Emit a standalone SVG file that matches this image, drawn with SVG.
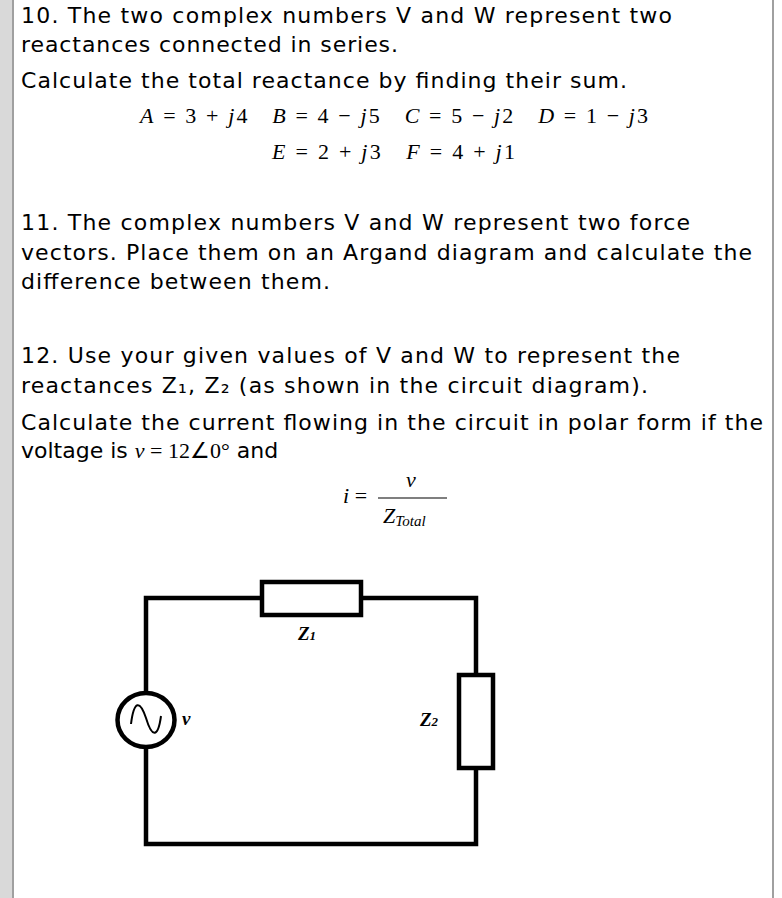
<svg xmlns="http://www.w3.org/2000/svg" width="782" height="898" viewBox="0 0 782 898">
<style>
.t{font-family:"DejaVu Sans",Verdana,sans-serif;font-size:22px;fill:#000}
.m{font-family:"Liberation Serif","Times New Roman",serif;font-size:22px;fill:#000}
.i{font-style:italic}
.w{fill:none;stroke:#000;stroke-width:4.5}
.lb{font-family:"Liberation Serif",serif;font-weight:bold;font-style:italic;font-size:19px}
</style>
<rect x="0" y="0" width="782" height="898" fill="#fff"/>
<rect x="0" y="0" width="12" height="898" fill="#d9d9d9"/>
<line x1="13" y1="0" x2="13" y2="898" stroke="#808080" stroke-width="1.5"/>
<line x1="773" y1="0" x2="773" y2="898" stroke="#808080" stroke-width="1.5"/>
<g id="q10">
<text class="t" x="21" y="23" textLength="651">10. The two complex numbers V and W represent two</text>
<text class="t" x="21" y="52" textLength="377">reactances connected in series.</text>
<text class="t" x="21" y="88" textLength="606">Calculate the total reactance by finding their sum.</text>
<text class="m" x="140" y="123" textLength="508" xml:space="preserve"><tspan class="i">A</tspan> = 3 + <tspan class="i">j</tspan>4   <tspan class="i">B</tspan> = 4 − <tspan class="i">j</tspan>5   <tspan class="i">C</tspan> = 5 − <tspan class="i">j</tspan>2   <tspan class="i">D</tspan> = 1 − <tspan class="i">j</tspan>3</text>
<text class="m" x="272" y="159" textLength="243" xml:space="preserve"><tspan class="i">E</tspan> = 2 + <tspan class="i">j</tspan>3   <tspan class="i">F</tspan> = 4 + <tspan class="i">j</tspan>1</text>
</g>
<g id="q11">
<text class="t" x="21" y="230" textLength="669">11. The complex numbers V and W represent two force</text>
<text class="t" x="21" y="260" textLength="731">vectors. Place them on an Argand diagram and calculate the</text>
<text class="t" x="21" y="289" textLength="309">difference between them.</text>
</g>
<g id="q12">
<text class="t" x="21" y="363" textLength="659">12. Use your given values of V and W to represent the</text>
<text class="t" x="21" y="393" textLength="627">reactances Z₁, Z₂ (as shown in the circuit diagram).</text>
<text class="t" x="21" y="430" textLength="742">Calculate the current flowing in the circuit in polar form if the</text>
<text class="t" x="21" y="458">voltage is <tspan class="m i">v</tspan><tspan class="m"> = 12∠0°</tspan> and</text>
<text class="m" x="343" y="503"><tspan class="i">i</tspan> =</text>
<text class="m i" x="406" y="487">v</text>
<line x1="378" y1="498" x2="447" y2="498" stroke="#000" stroke-width="1.2"/>
<text class="m i" x="383" y="523">Z<tspan font-size="15" dy="3">Total</tspan></text>
</g>
<g id="connectors">
<polyline class="w" points="262,598 146,598 146,693"/>
<polyline class="w" points="146,747 146,844 476,844 476,768"/>
<polyline class="w" points="361,598 476,598 476,674"/>
</g>
<g id="Z1"><rect class="w" x="262" y="582" width="99" height="33"/><text class="lb" x="298" y="640">Z<tspan font-size="13">1</tspan></text></g>
<g id="Z2"><rect class="w" x="459" y="675" width="34" height="93"/><text class="lb" x="420" y="726">Z<tspan font-size="13">2</tspan></text></g>
<g id="source"><ellipse class="w" cx="146" cy="720" rx="28.5" ry="27"/>
<path d="M131,724 C134,700 140,700 146,718 C152,738 158,738 161,716" fill="none" stroke="#000" stroke-width="2"/>
<text class="lb" x="182" y="725" font-size="16">v</text></g>
</svg>
